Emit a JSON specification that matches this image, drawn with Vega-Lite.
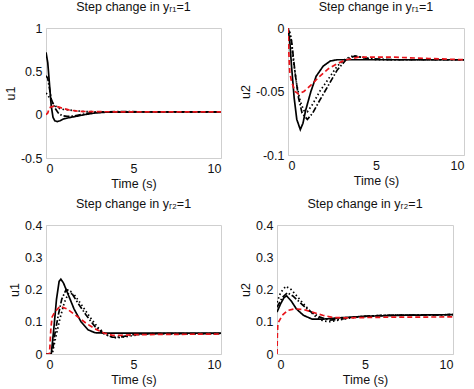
{
  "$schema": "https://vega.github.io/schema/vega-lite/v6.json",
  "padding": {"left": 3, "top": 0, "right": 2, "bottom": 0},
  "background": "white",
  "config": {
    "font": "Liberation Sans",
    "view": {"stroke": "#cfcfcf", "strokeWidth": 1},
    "axis": {"grid": false, "domainColor": "#cfcfcf", "ticks": false, "labelFontSize": 12.5, "labelColor": "#111", "titleFontSize": 12.5, "titleFontWeight": "normal", "titleColor": "#111", "labelPadding": 4, "titlePadding": 3, "labelExpr": "replace(format(datum.value, '~g'), '−', '-')"},
    "axisY": {"titlePadding": 3},
    "title": {"fontSize": 12.5, "fontWeight": "normal", "color": "#111", "offset": 9},
    "line": {"strokeWidth": 1.7}
  },
  "spacing": 6,
  "datasets": {
    "u": [
      {"p":"a","s":"solid","t":0,"v":0.72},{"p":"a","s":"solid","t":0.1,"v":0.6},{"p":"a","s":"solid","t":0.2,"v":0.35},{"p":"a","s":"solid","t":0.3,"v":0.1},{"p":"a","s":"solid","t":0.4,"v":-0.03},{"p":"a","s":"solid","t":0.5,"v":-0.07},{"p":"a","s":"solid","t":0.65,"v":-0.08},{"p":"a","s":"solid","t":0.8,"v":-0.07},{"p":"a","s":"solid","t":1.0,"v":-0.05},{"p":"a","s":"solid","t":1.3,"v":-0.035},{"p":"a","s":"solid","t":1.7,"v":-0.02},{"p":"a","s":"solid","t":2.2,"v":0.0},{"p":"a","s":"solid","t":2.8,"v":0.02},{"p":"a","s":"solid","t":3.5,"v":0.03},{"p":"a","s":"solid","t":10,"v":0.032},
      {"p":"a","s":"dashdot","t":0,"v":0.45},{"p":"a","s":"dashdot","t":0.1,"v":0.42},{"p":"a","s":"dashdot","t":0.2,"v":0.3},{"p":"a","s":"dashdot","t":0.3,"v":0.18},{"p":"a","s":"dashdot","t":0.5,"v":0.08},{"p":"a","s":"dashdot","t":0.7,"v":0.02},{"p":"a","s":"dashdot","t":0.9,"v":-0.01},{"p":"a","s":"dashdot","t":1.2,"v":-0.02},{"p":"a","s":"dashdot","t":1.6,"v":-0.015},{"p":"a","s":"dashdot","t":2.0,"v":0.0},{"p":"a","s":"dashdot","t":2.5,"v":0.02},{"p":"a","s":"dashdot","t":3.2,"v":0.03},{"p":"a","s":"dashdot","t":4,"v":0.035},{"p":"a","s":"dashdot","t":6,"v":0.033},{"p":"a","s":"dashdot","t":10,"v":0.032},
      {"p":"a","s":"dotted","t":0,"v":0.25},{"p":"a","s":"dotted","t":0.1,"v":0.23},{"p":"a","s":"dotted","t":0.2,"v":0.19},{"p":"a","s":"dotted","t":0.4,"v":0.13},{"p":"a","s":"dotted","t":0.6,"v":0.09},{"p":"a","s":"dotted","t":0.8,"v":0.07},{"p":"a","s":"dotted","t":1.0,"v":0.06},{"p":"a","s":"dotted","t":1.3,"v":0.055},{"p":"a","s":"dotted","t":1.7,"v":0.045},{"p":"a","s":"dotted","t":2.2,"v":0.035},{"p":"a","s":"dotted","t":3,"v":0.033},{"p":"a","s":"dotted","t":10,"v":0.032},
      {"p":"a","s":"red","t":0,"v":0},{"p":"a","s":"red","t":0.1,"v":0.02},{"p":"a","s":"red","t":0.2,"v":0.08},{"p":"a","s":"red","t":0.3,"v":0.09},{"p":"a","s":"red","t":0.5,"v":0.1},{"p":"a","s":"red","t":0.7,"v":0.09},{"p":"a","s":"red","t":1.0,"v":0.07},{"p":"a","s":"red","t":1.3,"v":0.055},{"p":"a","s":"red","t":1.8,"v":0.04},{"p":"a","s":"red","t":2.5,"v":0.035},{"p":"a","s":"red","t":4,"v":0.033},{"p":"a","s":"red","t":10,"v":0.032},

      {"p":"b","s":"solid","t":0,"v":0},{"p":"b","s":"solid","t":0.1,"v":-0.01},{"p":"b","s":"solid","t":0.2,"v":-0.03},{"p":"b","s":"solid","t":0.35,"v":-0.055},{"p":"b","s":"solid","t":0.5,"v":-0.072},{"p":"b","s":"solid","t":0.7,"v":-0.08},{"p":"b","s":"solid","t":0.85,"v":-0.075},{"p":"b","s":"solid","t":1.0,"v":-0.065},{"p":"b","s":"solid","t":1.3,"v":-0.05},{"p":"b","s":"solid","t":1.6,"v":-0.038},{"p":"b","s":"solid","t":2.0,"v":-0.03},{"p":"b","s":"solid","t":2.4,"v":-0.026},{"p":"b","s":"solid","t":2.8,"v":-0.025},{"p":"b","s":"solid","t":10,"v":-0.025},
      {"p":"b","s":"dashdot","t":0,"v":0},{"p":"b","s":"dashdot","t":0.2,"v":-0.01},{"p":"b","s":"dashdot","t":0.4,"v":-0.035},{"p":"b","s":"dashdot","t":0.6,"v":-0.055},{"p":"b","s":"dashdot","t":0.8,"v":-0.067},{"p":"b","s":"dashdot","t":1.1,"v":-0.072},{"p":"b","s":"dashdot","t":1.4,"v":-0.067},{"p":"b","s":"dashdot","t":1.8,"v":-0.057},{"p":"b","s":"dashdot","t":2.3,"v":-0.045},{"p":"b","s":"dashdot","t":2.8,"v":-0.033},{"p":"b","s":"dashdot","t":3.3,"v":-0.025},{"p":"b","s":"dashdot","t":3.8,"v":-0.022},{"p":"b","s":"dashdot","t":4.5,"v":-0.024},{"p":"b","s":"dashdot","t":6,"v":-0.025},{"p":"b","s":"dashdot","t":10,"v":-0.025},
      {"p":"b","s":"dotted","t":0,"v":0},{"p":"b","s":"dotted","t":0.15,"v":-0.005},{"p":"b","s":"dotted","t":0.3,"v":-0.025},{"p":"b","s":"dotted","t":0.5,"v":-0.045},{"p":"b","s":"dotted","t":0.7,"v":-0.058},{"p":"b","s":"dotted","t":0.9,"v":-0.065},{"p":"b","s":"dotted","t":1.1,"v":-0.066},{"p":"b","s":"dotted","t":1.4,"v":-0.06},{"p":"b","s":"dotted","t":1.8,"v":-0.05},{"p":"b","s":"dotted","t":2.3,"v":-0.04},{"p":"b","s":"dotted","t":2.8,"v":-0.03},{"p":"b","s":"dotted","t":3.3,"v":-0.024},{"p":"b","s":"dotted","t":3.7,"v":-0.022},{"p":"b","s":"dotted","t":4.2,"v":-0.023},{"p":"b","s":"dotted","t":5,"v":-0.025},{"p":"b","s":"dotted","t":10,"v":-0.025},
      {"p":"b","s":"red","t":0,"v":0},{"p":"b","s":"red","t":0.05,"v":-0.02},{"p":"b","s":"red","t":0.1,"v":-0.035},{"p":"b","s":"red","t":0.2,"v":-0.042},{"p":"b","s":"red","t":0.4,"v":-0.05},{"p":"b","s":"red","t":0.6,"v":-0.052},{"p":"b","s":"red","t":0.9,"v":-0.05},{"p":"b","s":"red","t":1.3,"v":-0.045},{"p":"b","s":"red","t":1.8,"v":-0.038},{"p":"b","s":"red","t":2.3,"v":-0.032},{"p":"b","s":"red","t":2.8,"v":-0.028},{"p":"b","s":"red","t":3.3,"v":-0.025},{"p":"b","s":"red","t":4,"v":-0.023},{"p":"b","s":"red","t":6,"v":-0.023},{"p":"b","s":"red","t":8,"v":-0.024},{"p":"b","s":"red","t":10,"v":-0.025},

      {"p":"c","s":"solid","t":0,"v":0},{"p":"c","s":"solid","t":0.3,"v":0},{"p":"c","s":"solid","t":0.45,"v":0.08},{"p":"c","s":"solid","t":0.6,"v":0.17},{"p":"c","s":"solid","t":0.75,"v":0.225},{"p":"c","s":"solid","t":0.85,"v":0.232},{"p":"c","s":"solid","t":1.0,"v":0.22},{"p":"c","s":"solid","t":1.3,"v":0.18},{"p":"c","s":"solid","t":1.6,"v":0.14},{"p":"c","s":"solid","t":2.0,"v":0.1},{"p":"c","s":"solid","t":2.4,"v":0.075},{"p":"c","s":"solid","t":2.8,"v":0.066},{"p":"c","s":"solid","t":3.2,"v":0.065},{"p":"c","s":"solid","t":10,"v":0.065},
      {"p":"c","s":"dashdot","t":0,"v":0},{"p":"c","s":"dashdot","t":0.35,"v":0},{"p":"c","s":"dashdot","t":0.5,"v":0.06},{"p":"c","s":"dashdot","t":0.7,"v":0.12},{"p":"c","s":"dashdot","t":0.9,"v":0.17},{"p":"c","s":"dashdot","t":1.15,"v":0.2},{"p":"c","s":"dashdot","t":1.4,"v":0.195},{"p":"c","s":"dashdot","t":1.8,"v":0.16},{"p":"c","s":"dashdot","t":2.3,"v":0.12},{"p":"c","s":"dashdot","t":2.8,"v":0.085},{"p":"c","s":"dashdot","t":3.3,"v":0.063},{"p":"c","s":"dashdot","t":3.8,"v":0.052},{"p":"c","s":"dashdot","t":4.3,"v":0.053},{"p":"c","s":"dashdot","t":5,"v":0.06},{"p":"c","s":"dashdot","t":6,"v":0.063},{"p":"c","s":"dashdot","t":10,"v":0.063},
      {"p":"c","s":"dotted","t":0,"v":0},{"p":"c","s":"dotted","t":0.35,"v":0},{"p":"c","s":"dotted","t":0.55,"v":0.05},{"p":"c","s":"dotted","t":0.8,"v":0.11},{"p":"c","s":"dotted","t":1.05,"v":0.16},{"p":"c","s":"dotted","t":1.3,"v":0.19},{"p":"c","s":"dotted","t":1.6,"v":0.185},{"p":"c","s":"dotted","t":2.0,"v":0.155},{"p":"c","s":"dotted","t":2.5,"v":0.115},{"p":"c","s":"dotted","t":3.0,"v":0.08},{"p":"c","s":"dotted","t":3.5,"v":0.058},{"p":"c","s":"dotted","t":4.0,"v":0.05},{"p":"c","s":"dotted","t":4.5,"v":0.053},{"p":"c","s":"dotted","t":5.5,"v":0.062},{"p":"c","s":"dotted","t":10,"v":0.063},
      {"p":"c","s":"red","t":0,"v":0},{"p":"c","s":"red","t":0.2,"v":0},{"p":"c","s":"red","t":0.28,"v":0.08},{"p":"c","s":"red","t":0.35,"v":0.115},{"p":"c","s":"red","t":0.5,"v":0.13},{"p":"c","s":"red","t":0.8,"v":0.148},{"p":"c","s":"red","t":1.2,"v":0.14},{"p":"c","s":"red","t":1.7,"v":0.12},{"p":"c","s":"red","t":2.3,"v":0.095},{"p":"c","s":"red","t":2.8,"v":0.078},{"p":"c","s":"red","t":3.3,"v":0.065},{"p":"c","s":"red","t":3.8,"v":0.058},{"p":"c","s":"red","t":4.3,"v":0.058},{"p":"c","s":"red","t":5,"v":0.06},{"p":"c","s":"red","t":10,"v":0.062},

      {"p":"d","s":"solid","t":0,"v":0.13},{"p":"d","s":"solid","t":0.2,"v":0.155},{"p":"d","s":"solid","t":0.4,"v":0.175},{"p":"d","s":"solid","t":0.55,"v":0.18},{"p":"d","s":"solid","t":0.8,"v":0.165},{"p":"d","s":"solid","t":1.1,"v":0.14},{"p":"d","s":"solid","t":1.5,"v":0.12},{"p":"d","s":"solid","t":2.0,"v":0.108},{"p":"d","s":"solid","t":2.6,"v":0.108},{"p":"d","s":"solid","t":3.5,"v":0.112},{"p":"d","s":"solid","t":5,"v":0.117},{"p":"d","s":"solid","t":7,"v":0.12},{"p":"d","s":"solid","t":10,"v":0.122},
      {"p":"d","s":"dashdot","t":0,"v":0.145},{"p":"d","s":"dashdot","t":0.3,"v":0.175},{"p":"d","s":"dashdot","t":0.6,"v":0.19},{"p":"d","s":"dashdot","t":0.9,"v":0.18},{"p":"d","s":"dashdot","t":1.3,"v":0.16},{"p":"d","s":"dashdot","t":1.8,"v":0.135},{"p":"d","s":"dashdot","t":2.4,"v":0.115},{"p":"d","s":"dashdot","t":3.0,"v":0.105},{"p":"d","s":"dashdot","t":3.5,"v":0.107},{"p":"d","s":"dashdot","t":4.5,"v":0.115},{"p":"d","s":"dashdot","t":6,"v":0.12},{"p":"d","s":"dashdot","t":10,"v":0.122},
      {"p":"d","s":"dotted","t":0,"v":0.16},{"p":"d","s":"dotted","t":0.2,"v":0.19},{"p":"d","s":"dotted","t":0.5,"v":0.21},{"p":"d","s":"dotted","t":0.8,"v":0.2},{"p":"d","s":"dotted","t":1.2,"v":0.175},{"p":"d","s":"dotted","t":1.6,"v":0.15},{"p":"d","s":"dotted","t":2.1,"v":0.12},{"p":"d","s":"dotted","t":2.6,"v":0.103},{"p":"d","s":"dotted","t":3.0,"v":0.1},{"p":"d","s":"dotted","t":3.5,"v":0.105},{"p":"d","s":"dotted","t":4.5,"v":0.115},{"p":"d","s":"dotted","t":6,"v":0.12},{"p":"d","s":"dotted","t":10,"v":0.122},
      {"p":"d","s":"red","t":0,"v":0},{"p":"d","s":"red","t":0.02,"v":0.06},{"p":"d","s":"red","t":0.05,"v":0.095},{"p":"d","s":"red","t":0.15,"v":0.105},{"p":"d","s":"red","t":0.3,"v":0.12},{"p":"d","s":"red","t":0.6,"v":0.135},{"p":"d","s":"red","t":1.0,"v":0.14},{"p":"d","s":"red","t":1.5,"v":0.138},{"p":"d","s":"red","t":2.0,"v":0.13},{"p":"d","s":"red","t":2.6,"v":0.12},{"p":"d","s":"red","t":3.2,"v":0.113},{"p":"d","s":"red","t":4,"v":0.112},{"p":"d","s":"red","t":6,"v":0.114},{"p":"d","s":"red","t":10,"v":0.115}
    ]
  },
  "vconcat": [
    {
      "spacing": 17,
      "hconcat": [
        {
          "width": 175, "height": 130,
          "title": "Step change in yᵣ₁=1",
          "data": {"name": "u"},
          "transform": [{"filter": "datum.p === 'a'"}],
          "mark": {"type": "line", "clip": true},
          "encoding": {
            "x": {"field": "t", "type": "quantitative", "scale": {"domain": [0, 10], "nice": false}, "axis": {"values": [0, 5, 10], "title": "Time (s)"}},
            "y": {"field": "v", "type": "quantitative", "scale": {"domain": [-0.5, 1], "nice": false, "zero": false}, "axis": {"values": [-0.5, 0, 0.5, 1], "title": "u1"}},
            "color": {"field": "s", "type": "nominal", "scale": {"domain": ["solid", "dashdot", "dotted", "red"], "range": ["#000000", "#000000", "#000000", "#e8141a"]}, "legend": null},
            "strokeDash": {"field": "s", "type": "nominal", "scale": {"domain": ["solid", "dashdot", "dotted", "red"], "range": [[1, 0], [6, 2, 1.5, 2], [1.5, 2.5], [5, 3]]}, "legend": null}
          }
        },
        {
          "width": 176, "height": 127,
          "title": "Step change in yᵣ₁=1",
          "data": {"name": "u"},
          "transform": [{"filter": "datum.p === 'b'"}],
          "mark": {"type": "line", "clip": true},
          "encoding": {
            "x": {"field": "t", "type": "quantitative", "scale": {"domain": [0, 10], "nice": false}, "axis": {"values": [0, 5, 10], "title": "Time (s)"}},
            "y": {"field": "v", "type": "quantitative", "scale": {"domain": [-0.1, 0], "nice": false, "zero": false}, "axis": {"values": [-0.1, -0.05, 0], "title": "u2"}},
            "color": {"field": "s", "type": "nominal", "scale": {"domain": ["solid", "dashdot", "dotted", "red"], "range": ["#000000", "#000000", "#000000", "#e8141a"]}, "legend": null},
            "strokeDash": {"field": "s", "type": "nominal", "scale": {"domain": ["solid", "dashdot", "dotted", "red"], "range": [[1, 0], [6, 2, 1.5, 2], [1.5, 2.5], [5, 3]]}, "legend": null}
          }
        }
      ]
    },
    {
      "spacing": 17,
      "hconcat": [
        {
          "width": 175, "height": 129,
          "title": "Step change in yᵣ₂=1",
          "data": {"name": "u"},
          "transform": [{"filter": "datum.p === 'c'"}],
          "mark": {"type": "line", "clip": true},
          "encoding": {
            "x": {"field": "t", "type": "quantitative", "scale": {"domain": [0, 10], "nice": false}, "axis": {"values": [0, 5, 10], "title": "Time (s)"}},
            "y": {"field": "v", "type": "quantitative", "scale": {"domain": [0, 0.4], "nice": false}, "axis": {"values": [0, 0.1, 0.2, 0.3, 0.4], "title": "u1"}},
            "color": {"field": "s", "type": "nominal", "scale": {"domain": ["solid", "dashdot", "dotted", "red"], "range": ["#000000", "#000000", "#000000", "#e8141a"]}, "legend": null},
            "strokeDash": {"field": "s", "type": "nominal", "scale": {"domain": ["solid", "dashdot", "dotted", "red"], "range": [[1, 0], [6, 2, 1.5, 2], [1.5, 2.5], [5, 3]]}, "legend": null}
          }
        },
        {
          "width": 176, "height": 129,
          "title": "Step change in yᵣ₂=1",
          "data": {"name": "u"},
          "transform": [{"filter": "datum.p === 'd'"}],
          "mark": {"type": "line", "clip": true},
          "encoding": {
            "x": {"field": "t", "type": "quantitative", "scale": {"domain": [0, 10], "nice": false}, "axis": {"values": [0, 5, 10], "title": "Time (s)"}},
            "y": {"field": "v", "type": "quantitative", "scale": {"domain": [0, 0.4], "nice": false}, "axis": {"values": [0, 0.1, 0.2, 0.3, 0.4], "title": "u2"}},
            "color": {"field": "s", "type": "nominal", "scale": {"domain": ["solid", "dashdot", "dotted", "red"], "range": ["#000000", "#000000", "#000000", "#e8141a"]}, "legend": null},
            "strokeDash": {"field": "s", "type": "nominal", "scale": {"domain": ["solid", "dashdot", "dotted", "red"], "range": [[1, 0], [6, 2, 1.5, 2], [1.5, 2.5], [5, 3]]}, "legend": null}
          }
        }
      ]
    }
  ]
}
